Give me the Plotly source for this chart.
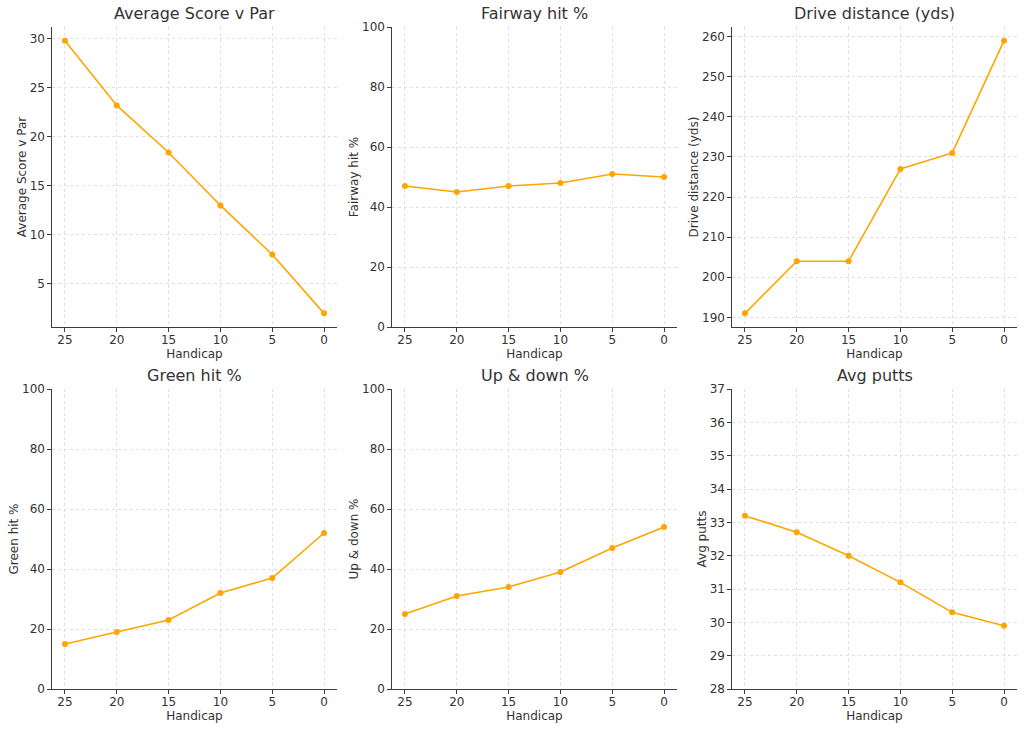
import plotly.graph_objects as go

# Data
handicap = [25, 20, 15, 10, 5, 0]
avg_score_v_par = [29.8, 23.2, 18.4, 13.0, 8.0, 2.0]
fairway_hit = [47, 45, 47, 48, 51, 50]
drive_distance = [191, 204, 204, 227, 231, 259]
green_hit = [15, 19, 23, 32, 37, 52]
up_and_down = [25, 31, 34, 39, 47, 54]
avg_putts = [33.2, 32.7, 32.0, 31.2, 30.3, 29.9]

titles = ["Average Score v Par", "Fairway hit %", "Drive distance (yds)",
          "Green hit %", "Up & down %", "Avg putts"]
series = [avg_score_v_par, fairway_hit, drive_distance, green_hit, up_and_down, avg_putts]
y_ranges = [[0.61, 31.19], [0, 100], [187.6, 262.4], [0, 100], [0, 100], [28, 37]]
y_dticks = [5, 20, 10, 20, 20, 1]

W, H = 1024, 730
col_px = [(52, 337), (392, 677), (732, 1017)]
row_px = [(27, 327), (389, 689)]
ORANGE = "#FFA500"
AXIS = "#3d3d3d"
FONT = "DejaVu Sans"

fig = go.Figure()
annotations = []
for i, (title, ys) in enumerate(zip(titles, series)):
    r, c = divmod(i, 3)
    n = "" if i == 0 else str(i + 1)
    x0, x1 = col_px[c]
    y0, y1 = row_px[r]
    fig.add_trace(go.Scatter(
        x=handicap, y=ys, mode="lines+markers",
        line=dict(color=ORANGE, width=1.6),
        marker=dict(color=ORANGE, size=6),
        xaxis="x" + n, yaxis="y" + n, showlegend=False))
    common = dict(showline=True, linecolor=AXIS, linewidth=1.3, ticks="outside",
                  ticklen=3.5, tickcolor=AXIS, showgrid=True, gridcolor="#e0e0e0",
                  griddash="dot", gridwidth=0.8, zeroline=False, mirror=False,
                  automargin=False,
                  tickfont=dict(size=12, color="#333", family=FONT))
    fig.update_layout(**{
        "xaxis" + n: dict(common, domain=[x0 / W, x1 / W], anchor="y" + n,
                          range=[26.25, -1.25], tickvals=handicap,
                          ticklabelstandoff=-2,
                          title=dict(text="Handicap", standoff=0,
                                     font=dict(size=12, color="#333", family=FONT))),
        "yaxis" + n: dict(common, domain=[1 - y1 / H, 1 - y0 / H], anchor="x" + n,
                          range=y_ranges[i], dtick=y_dticks[i],
                          title=dict(text=title, standoff=0,
                                     font=dict(size=12, color="#333", family=FONT))),
    })
    annotations.append(dict(text=title, x=(x0 + x1) / 2 / W, y=1 - y0 / H,
                            xref="paper", yref="paper", xanchor="center",
                            yanchor="bottom", yshift=2, showarrow=False,
                            font=dict(size=16, color="#333", family=FONT)))

fig.update_layout(width=W, height=H, margin=dict(l=0, r=0, t=0, b=0, autoexpand=False),
                  paper_bgcolor="white", plot_bgcolor="white",
                  annotations=annotations)
# drop the default page margin so the figure fills the window exactly
fig.write_html("out.html", config={"displayModeBar": False},
               post_script="document.body.style.margin = '0px';")
